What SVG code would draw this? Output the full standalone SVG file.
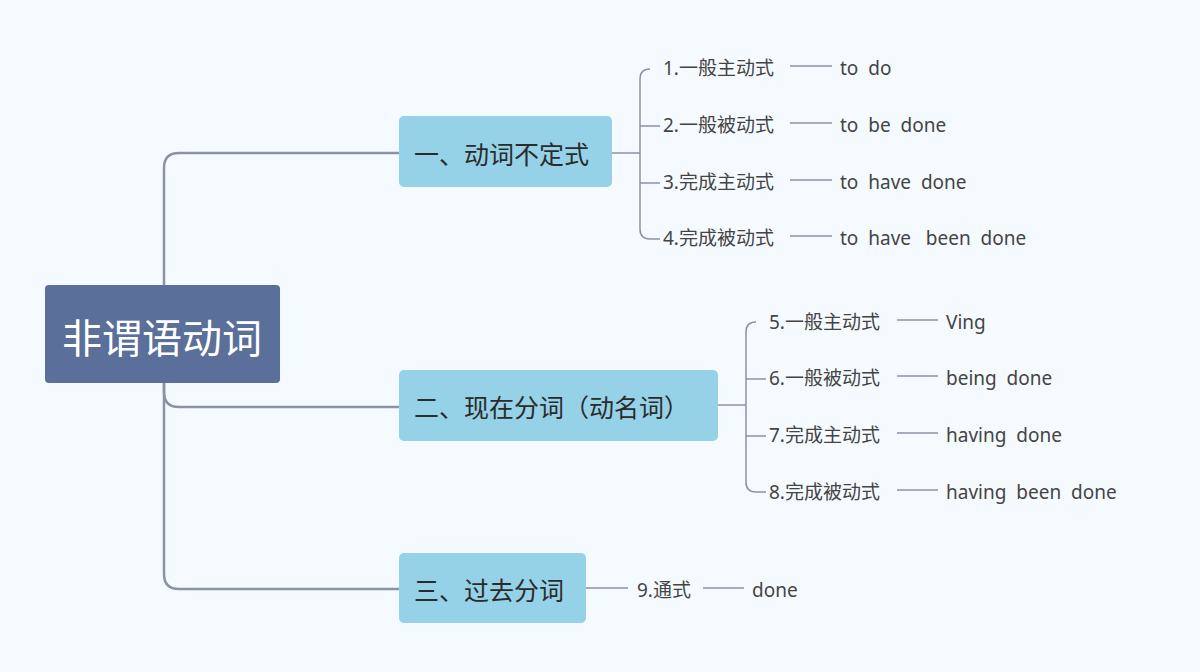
<svg xmlns="http://www.w3.org/2000/svg" width="1200" height="672" viewBox="0 0 1200 672">
<style>
.c{fill:none;stroke:#8a93a5;stroke-width:2.5}
.t{fill:none;stroke:#8a93a5;stroke-width:1.5}
.l1{fill:#95d2e8}
.h{font-family:"Noto Sans CJK SC","Noto Sans",sans-serif;font-size:25px;fill:#2b2b2b;dominant-baseline:central}
.s{font-family:"Noto Sans","Noto Sans CJK SC",sans-serif;font-size:19px;fill:#444;dominant-baseline:central}
</style>
<rect width="1200" height="672" fill="#f5faff"/>
<g id="connectors">
<path class="c" d="M164 285V168Q164 153 179 153H399"/>
<path class="c" d="M164 383V392Q164 407 179 407H399"/>
<path class="c" d="M164 383V574Q164 589 179 589H399"/>
<path class="t" d="M612 153H640M650 69Q640 69 640 79V229Q640 239 650 239H660M640 126H660M640 183H660"/>
<path class="t" d="M718 405H746M756 322Q746 322 746 332V482Q746 492 756 492H766M746 379H766M746 436H766"/>
<path class="t" d="M586 588H628"/>
<path class="t" d="M790 66H832M790 123H832M790 180H832M790 236H832M897 320H938M897 376H938M897 433H938M897 490H938M703 588H744"/>
</g>
<g id="root"><rect x="45" y="285" width="235" height="98" rx="4" fill="#5a6f9a"/><text x="162" y="336" text-anchor="middle" font-family="Noto Sans CJK SC,sans-serif" font-size="40" fill="#fff" dominant-baseline="central">非谓语动词</text></g>
<g id="n1"><rect class="l1" x="399" y="116" width="213" height="71" rx="5"/><text class="h" x="414" y="153">一、动词不定式</text></g>
<g id="n2"><rect class="l1" x="399" y="370" width="319" height="71" rx="5"/><text class="h" x="414" y="406">二、现在分词（动名词）</text></g>
<g id="n3"><rect class="l1" x="399" y="553" width="187" height="70" rx="5"/><text class="h" x="414" y="589">三、过去分词</text></g>
<g id="leaves">
<text class="s" x="663" y="68">1.一般主动式</text><text class="s" x="840" y="68" xml:space="preserve">to  do</text>
<text class="s" x="663" y="125">2.一般被动式</text><text class="s" x="840" y="125" xml:space="preserve">to  be  done</text>
<text class="s" x="663" y="182">3.完成主动式</text><text class="s" x="840" y="182" xml:space="preserve">to  have  done</text>
<text class="s" x="663" y="238">4.完成被动式</text><text class="s" x="840" y="238" xml:space="preserve">to  have   been  done</text>
<text class="s" x="769" y="322">5.一般主动式</text><text class="s" x="946" y="322">Ving</text>
<text class="s" x="769" y="378">6.一般被动式</text><text class="s" x="946" y="378" xml:space="preserve">being  done</text>
<text class="s" x="769" y="435">7.完成主动式</text><text class="s" x="946" y="435" xml:space="preserve">having  done</text>
<text class="s" x="769" y="492">8.完成被动式</text><text class="s" x="946" y="492" xml:space="preserve">having  been  done</text>
<text class="s" x="637" y="590">9.通式</text><text class="s" x="752" y="590">done</text>
</g>
</svg>
